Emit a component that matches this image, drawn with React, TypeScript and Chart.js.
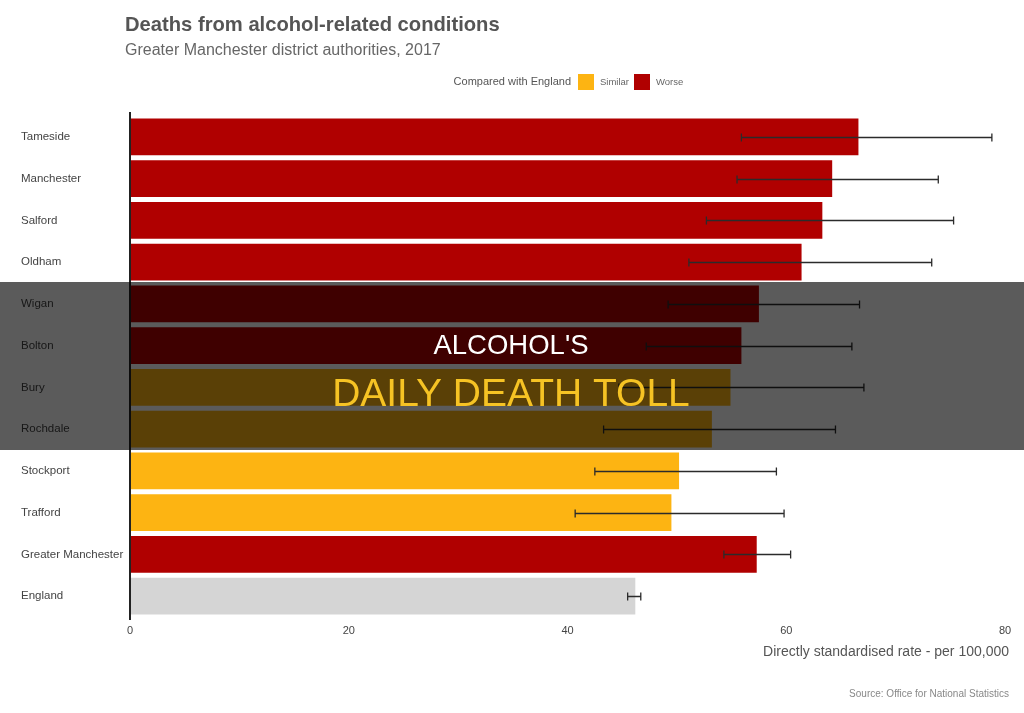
import React, { useEffect, useRef } from "react";
import { Chart, registerables } from "chart.js";

Chart.register(...registerables);

// Districts, top to bottom
const areas = [
  "Tameside",
  "Manchester",
  "Salford",
  "Oldham",
  "Wigan",
  "Bolton",
  "Bury",
  "Rochdale",
  "Stockport",
  "Trafford",
  "Greater Manchester",
  "England",
];

// Directly standardised rate per 100,000
const rates = [66.6, 64.2, 63.3, 61.4, 57.5, 55.9, 54.9, 53.2, 50.2, 49.5, 57.3, 46.2];

// 95% confidence interval bounds
const lowerCI = [55.9, 55.5, 52.7, 51.1, 49.2, 47.2, 44.7, 43.3, 42.5, 40.7, 54.3, 45.5];
const upperCI = [78.8, 73.9, 75.3, 73.3, 66.7, 66.0, 67.1, 64.5, 59.1, 59.8, 60.4, 46.7];

// Comparison with England
const comparison = [
  "Worse",
  "Worse",
  "Worse",
  "Worse",
  "Worse",
  "Worse",
  "Similar",
  "Similar",
  "Similar",
  "Similar",
  "Worse",
  "Benchmark",
];

const xTicks = [0, 20, 40, 60, 80];

const COLORS: Record<string, string> = {
  Worse: "#B00000",
  Similar: "#FDB412",
  Benchmark: "#D5D5D5",
};

const FONT = "'Liberation Sans', Arial, Helvetica, sans-serif";

const errorBars = {
  id: "errorBars",
  afterDatasetsDraw(chart: any) {
    const { ctx, scales } = chart;
    const xs = scales.x;
    const ys = scales.y;
    ctx.save();
    ctx.strokeStyle = "#2b2b2b";
    ctx.lineWidth = 1.3;
    areas.forEach((_, i) => {
      const y = Math.round(ys.getPixelForValue(i)) + 0.5;
      const x1 = xs.getPixelForValue(lowerCI[i]);
      const x2 = xs.getPixelForValue(upperCI[i]);
      ctx.beginPath();
      ctx.moveTo(x1, y);
      ctx.lineTo(x2, y);
      ctx.moveTo(x1, y - 4);
      ctx.lineTo(x1, y + 4);
      ctx.moveTo(x2, y - 4);
      ctx.lineTo(x2, y + 4);
      ctx.stroke();
    });
    // vertical axis line
    const ca = chart.chartArea;
    ctx.strokeStyle = "#222";
    ctx.lineWidth = 2;
    ctx.beginPath();
    ctx.moveTo(ca.left, ca.top - 4);
    ctx.lineTo(ca.left, ca.bottom + 3);
    ctx.stroke();
    ctx.restore();
  },
};

const decorations = {
  id: "decorations",
  afterDraw(chart: any) {
    const { ctx, chartArea: ca, width } = chart;
    ctx.save();

    // headings
    ctx.textAlign = "left";
    ctx.textBaseline = "alphabetic";
    ctx.fillStyle = "#555";
    ctx.font = `bold 20.2px ${FONT}`;
    ctx.fillText("Deaths from alcohol-related conditions", ca.left - 5, 31);
    ctx.fillStyle = "#666";
    ctx.font = `16px ${FONT}`;
    ctx.fillText("Greater Manchester district authorities, 2017", ca.left - 5, 55);

    // legend
    ctx.textBaseline = "middle";
    const ly = 82;
    ctx.fillStyle = "#555";
    ctx.font = `11px ${FONT}`;
    ctx.textAlign = "right";
    ctx.fillText("Compared with England", 571, ly);
    ctx.textAlign = "left";
    ctx.fillStyle = COLORS.Similar;
    ctx.fillRect(578, ly - 8, 16, 16);
    ctx.fillStyle = "#666";
    ctx.font = `9.5px ${FONT}`;
    ctx.fillText("Similar", 600, ly);
    ctx.fillStyle = COLORS.Worse;
    ctx.fillRect(634, ly - 8, 16, 16);
    ctx.fillStyle = "#666";
    ctx.fillText("Worse", 656, ly);

    // axis title and source
    ctx.textAlign = "right";
    ctx.fillStyle = "#555";
    ctx.font = `14px ${FONT}`;
    ctx.fillText("Directly standardised rate - per 100,000", 1009, 652);
    ctx.fillStyle = "#888";
    ctx.font = `10px ${FONT}`;
    ctx.fillText("Source: Office for National Statistics", 1009, 694);

    // banner
    ctx.fillStyle = "rgba(0,0,0,0.645)";
    ctx.fillRect(0, 282, width, 168);
    ctx.textAlign = "center";
    ctx.textBaseline = "middle";
    ctx.fillStyle = "#FFFFFF";
    ctx.font = `27.5px ${FONT}`;
    ctx.fillText("ALCOHOL'S", 511, 346);
    ctx.fillStyle = "#F6C324";
    ctx.font = `39px ${FONT}`;
    ctx.fillText("DAILY DEATH TOLL", 511, 395);

    ctx.restore();
  },
};

export default function App() {
  const canvasRef = useRef<HTMLCanvasElement | null>(null);

  useEffect(() => {
    const canvas = canvasRef.current;
    if (!canvas) return;
    const chart = new Chart(canvas, {
      type: "bar",
      data: {
        labels: areas,
        datasets: [
          {
            data: rates,
            backgroundColor: comparison.map((c) => COLORS[c]),
            borderWidth: 0,
            barPercentage: 0.886,
            categoryPercentage: 1,
          },
        ],
      },
      options: {
        indexAxis: "y",
        responsive: false,
        animation: false,
        devicePixelRatio: 1,
        layout: { padding: { left: 21, right: 19, top: 116, bottom: 0 } },
        plugins: {
          legend: { display: false },
          tooltip: { enabled: false },
          title: { display: false },
        },
        scales: {
          x: {
            type: "linear",
            min: 0,
            max: 80,
            afterBuildTicks: (s: any) => {
              s.ticks = xTicks.map((v) => ({ value: v }));
            },
            afterFit: (s: any) => {
              s.height = 96;
            },
            grid: { display: false, drawTicks: false },
            border: { display: false },
            ticks: {
              font: { family: FONT, size: 11 },
              color: "#444",
              padding: 7,
              maxRotation: 0,
            },
          },
          y: {
            type: "category",
            afterFit: (s: any) => {
              s.width = 109;
            },
            grid: { display: false, drawTicks: false },
            border: { display: false },
            ticks: {
              crossAlign: "far",
              font: { family: FONT, size: 11.5 },
              color: "#444",
              padding: 0,
            },
          },
        },
      },
      plugins: [errorBars, decorations],
    });
    return () => chart.destroy();
  }, []);

  return (
    <div style={{ position: "absolute", left: 0, top: 0, width: 1024, height: 713, background: "#fff" }}>
      <canvas ref={canvasRef} width={1024} height={713} style={{ display: "block" }} />
    </div>
  );
}
